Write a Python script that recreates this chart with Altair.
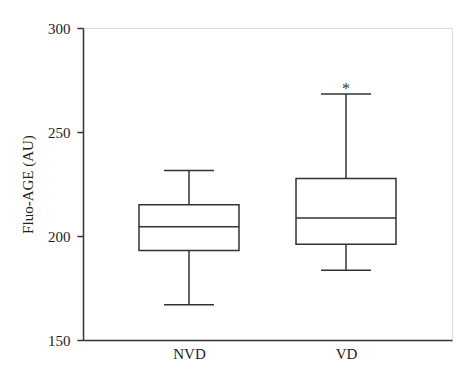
import altair as alt
import pandas as pd

groups = ["NVD", "VD"]
lower = [167, 183.5]
q1 = [193, 196]
median = [204.5, 208.7]
q3 = [215, 227.7]
upper = [231.5, 268.3]
signif = ["", "*"]

df = pd.DataFrame({"group": groups, "lower": lower, "q1": q1, "median": median,
                   "q3": q3, "upper": upper, "sig": signif})

FONT = "Liberation Serif"
LINE = "#333333"

x = alt.X("group:N", sort=groups, title=None,
          scale=alt.Scale(type="point", padding=0.675),
          axis=alt.Axis(labelAngle=0, ticks=False, domain=True, labelFontSize=15,
                        labelFont=FONT, labelColor="#222", labelPadding=6,
                        domainColor=LINE, domainWidth=1.5, grid=False))
yscale = alt.Scale(domain=[150, 300], nice=False, zero=False)
yaxis = alt.Axis(values=[150, 200, 250, 300], title="Fluo-AGE (AU)", titleFont=FONT,
                 titleFontSize=15, titleFontWeight="normal", titleColor="#222",
                 labelFont=FONT, labelFontSize=15, labelColor="#222", tickSize=6,
                 tickColor=LINE, tickWidth=1.5, domainColor=LINE, domainWidth=1.5,
                 grid=False, labelPadding=7, titlePadding=12)

base = alt.Chart(df)

whisk_lo = base.mark_rule(color=LINE, strokeWidth=1.5).encode(
    x=x, y=alt.Y("lower:Q", scale=yscale, axis=yaxis), y2="q1:Q")
whisk_hi = base.mark_rule(color=LINE, strokeWidth=1.5).encode(
    x=x, y=alt.Y("q3:Q", scale=yscale, axis=yaxis), y2="upper:Q")
box = base.mark_bar(size=100, fill="white", stroke=LINE, strokeWidth=1.5).encode(
    x=x, y=alt.Y("q1:Q", scale=yscale, axis=yaxis), y2="q3:Q")
med = base.mark_tick(size=100, thickness=1.5, color=LINE, opacity=1).encode(
    x=x, y=alt.Y("median:Q", scale=yscale, axis=yaxis))
cap_lo = base.mark_tick(size=50, thickness=1.5, color=LINE, opacity=1).encode(
    x=x, y=alt.Y("lower:Q", scale=yscale, axis=yaxis))
cap_hi = base.mark_tick(size=50, thickness=1.5, color=LINE, opacity=1).encode(
    x=x, y=alt.Y("upper:Q", scale=yscale, axis=yaxis))
star = base.mark_text(font=FONT, fontSize=16, color="#333", dy=-5).encode(
    x=x, y=alt.Y("upper:Q", scale=yscale, axis=yaxis), text="sig:N")

chart = alt.layer(whisk_lo, whisk_hi, box, med, cap_lo, cap_hi, star).properties(
    width=369, height=312,
    autosize=alt.AutoSizeParams(type="none"),
    padding={"left": 75, "top": 20, "right": 10, "bottom": 30},
).configure_view(stroke=None).configure(background="white")

chart.save("out.html", embed_options={"renderer": "svg", "actions": False})
